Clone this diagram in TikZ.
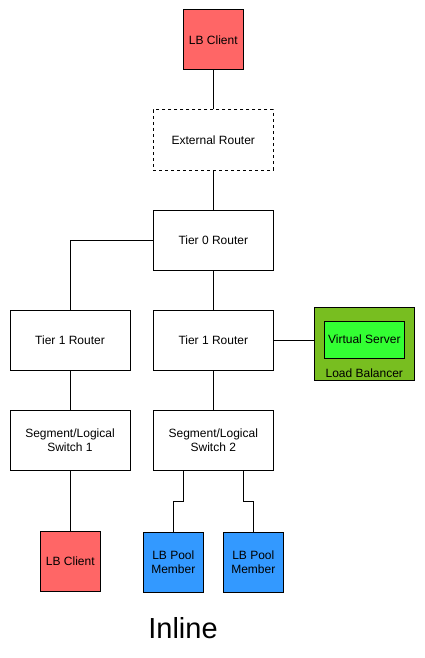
\documentclass[tikz,border=0pt]{standalone}
\usepackage{fontspec}
\setmainfont{Liberation Sans}
\definecolor{lbred}{RGB}{255,102,102}
\definecolor{poolblue}{RGB}{51,153,255}
\definecolor{lbgreen}{RGB}{120,190,32}
\definecolor{vsgreen}{RGB}{51,255,51}
\begin{document}
\begin{tikzpicture}[x=1pt,y=-1pt,
  box/.style={draw, line width=1pt, minimum width=120pt, minimum height=60pt, inner sep=0pt, align=center, font=\fontsize{12}{14}\selectfont},
  sq/.style={draw, line width=1pt, minimum width=60pt, minimum height=60pt, inner sep=0pt, align=center, font=\fontsize{12}{14}\selectfont},
  wire/.style={line width=1pt}]
\useasboundingbox (0,0) rectangle (425,658);
\node[sq, fill=lbred] (c1) at (213.3,40) {LB Client};
\node[box, dashed] (ext) at (213.3,140) {External Router};
\node[box] (t0) at (213.3,240) {Tier 0 Router};
\node[box] (t1a) at (70,340) {Tier 1 Router};
\node[box] (t1b) at (213.3,340) {Tier 1 Router};
\node[draw, line width=1pt, fill=lbgreen, minimum width=100pt, minimum height=73pt, inner sep=0pt] (lb) at (364.3,344) {};
\node[draw, line width=1pt, fill=vsgreen, minimum width=80pt, minimum height=37pt, inner sep=0pt, font=\fontsize{12}{14}\selectfont] (vs) at (364.3,339.5) {Virtual Server};
\node[font=\fontsize{12}{14}\selectfont] (lbl) at (364.3,373) {Load Balancer};
\node[box] (s1) at (70,440) {Segment/Logical\\Switch 1};
\node[box] (s2) at (213.3,440) {Segment/Logical\\Switch 2};
\node[sq, fill=lbred] (c2) at (70.3,561.5) {LB Client};
\node[sq, fill=poolblue] (p1) at (173.3,562) {LB Pool\\Member};
\node[sq, fill=poolblue] (p2) at (253.3,562) {LB Pool\\Member};
\node[font=\fontsize{29}{34}\selectfont] (title) at (183,628) {Inline};
\coordinate (j1) at (183.3,501);
\coordinate (j2) at (243.3,501);
\draw[wire] (c1) -- (ext);
\draw[wire] (ext) -- (t0);
\draw[wire] (t0.west) -| (t1a.north);
\draw[wire] (t0) -- (t1b);
\draw[wire] (t1b.east) -- (lb.west |- t1b.east);
\draw[wire] (t1a) -- (s1);
\draw[wire] (t1b) -- (s2);
\draw[wire] (s1) -- (c2.north -| s1.south);
\draw[wire] (s2.south -| j1) -- (j1) -| (p1.north);
\draw[wire] (s2.south -| j2) -- (j2) -| (p2.north);
\end{tikzpicture}
\end{document}
